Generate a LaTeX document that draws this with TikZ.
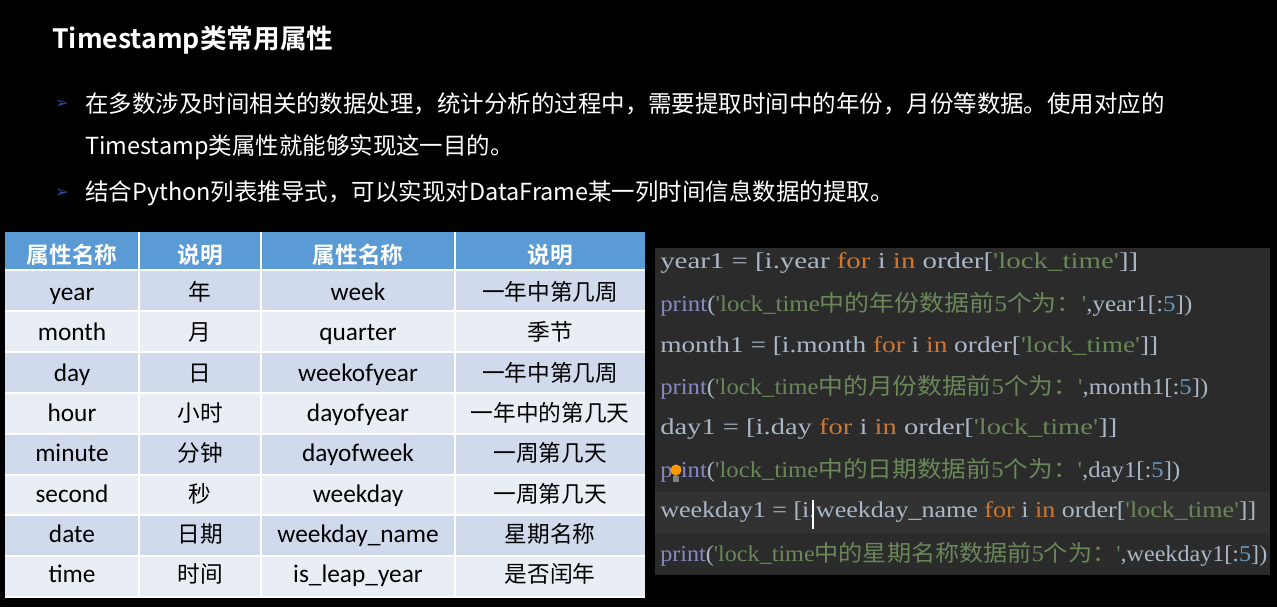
\documentclass[tikz,border=0pt]{standalone}
\usepackage{fontspec}
\setmainfont{Carlito}
\newfontfamily\cjk{Noto Sans CJK SC}
\newfontfamily\cjkb{Noto Sans CJK SC Bold}
\newfontfamily\codef{Liberation Serif}
\newfontfamily\dejavu{DejaVu Sans}
\definecolor{hdr}{HTML}{5B9BD5}
\definecolor{rowA}{HTML}{D0DAEC}
\definecolor{rowB}{HTML}{E9EDF4}
\definecolor{cbg}{HTML}{2B2B2B}
\definecolor{chl}{HTML}{323232}
\definecolor{ctx}{HTML}{A9B7C6}
\definecolor{ckw}{HTML}{CC7832}
\definecolor{cst}{HTML}{6A8759}
\definecolor{cpr}{HTML}{8888C6}
\definecolor{cnum}{HTML}{6897BB}
\definecolor{bul}{HTML}{2A4BB0}
\newcommand{\kw}[1]{\textcolor{ckw}{#1}}
\newcommand{\st}[1]{\textcolor{cst}{#1}}
\newcommand{\pr}[1]{\textcolor{cpr}{#1}}
\newcommand{\nm}[1]{\textcolor{cnum}{#1}}
\newcommand{\zh}[1]{{\cjk #1}}
\begin{document}
\begin{tikzpicture}[x=0.75pt,y=-0.75pt,
  cell/.style={anchor=center,font=\fontsize{19}{21}\selectfont,text=black,text height=13pt,text depth=3pt},
  zcell/.style={anchor=center,font=\cjk\fontsize{17}{19}\selectfont,text=black,text height=13pt,text depth=3pt},
  hcell/.style={anchor=center,font=\cjkb\fontsize{17}{19}\selectfont,text=white},
  codeline/.style={anchor=west,inner sep=0pt,text=ctx,font=\codef\fontsize{17}{19}\selectfont},
  bullet/.style={anchor=west,inner sep=0pt,font=\cjk\fontsize{17.6}{20}\selectfont,text=white},
  arrowb/.style={text=bul,font=\dejavu\fontsize{12}{14}\selectfont}]
\fill[black] (0,0) rectangle (1277,607);
\useasboundingbox (0,0) rectangle (1277,607);
\node[anchor=west,inner sep=0pt,text=white,font=\cjkb\fontsize{20}{22}\selectfont] (title) at (52,40) {Timestamp类常用属性};
\node[arrowb] (b1) at (62,104) {➢};
\node[arrowb] (b2) at (62,193) {➢};
\node[bullet] (t1) at (85,104) {在多数涉及时间相关的数据处理，统计分析的过程中，需要提取时间中的年份，月份等数据。使用对应的};
\node[bullet] (t2) at (85,147) {Timestamp类属性就能够实现这一目的。};
\node[bullet] (t3) at (85,193) {结合Python列表推导式，可以实现对DataFrame某一列时间信息数据的提取。};
% table
\fill[hdr] (5,232) rectangle (645,270);
\foreach \i in {0,...,7}{
  \pgfmathsetmacro{\ya}{270+\i*40.9}
  \pgfmathsetmacro{\yb}{270+(\i+1)*40.9}
  \pgfmathparse{mod(\i,2)==0?"rowA":"rowB"}
  \fill[\pgfmathresult] (5,\ya) rectangle (645,\yb);
}
\foreach \x in {139,261,455}{\draw[white,line width=1.5pt] (\x,232) -- (\x,597);}
\foreach \i in {0,...,8}{\draw[white,line width=1.5pt] (5,270+\i*40.9) -- (645,270+\i*40.9);}
\node[hcell] (h1) at (72,255) {属性名称};
\node[hcell] (h2) at (200,255) {说明};
\node[hcell] (h3) at (358,255) {属性名称};
\node[hcell] (h4) at (550,255) {说明};
\foreach \a/\b/\c/\d [count=\i from 0] in {year/年/week/一年中第几周,month/月/quarter/季节,day/日/weekofyear/一年中第几周,hour/小时/dayofyear/一年中的第几天,minute/分钟/dayofweek/一周第几天,second/秒/weekday/一周第几天,date/日期/weekday\_name/星期名称,time/时间/is\_leap\_year/是否闰年}{
  \node[cell] (ra\i) at (72,{294+\i*40.3}) {\a};
  \node[zcell] (rb\i) at (200,{294+\i*40.3}) {\b};
  \node[cell] (rc\i) at (358,{294+\i*40.3}) {\c};
  \node[zcell] (rd\i) at (550,{294+\i*40.3}) {\d};
}
% code
\fill[cbg] (655,248) rectangle (1270,575);
\fill[chl] (655,492) rectangle (1270,533);
\node[codeline] (c1) at (660,263) {\resizebox{478\dimexpr0.75pt}{\height}{year1 = [i.year \kw{for} i \kw{in} order[\st{'lock\_time'}]]}};
\node[codeline] (c2) at (660,304) {\resizebox{532\dimexpr0.75pt}{\height}{\pr{print}(\st{'lock\_time\zh{中的年份数据前}5\zh{个为：}'},year1[:\nm{5}])}};
\node[codeline] (c3) at (660,346) {\resizebox{498\dimexpr0.75pt}{\height}{month1 = [i.month \kw{for} i \kw{in} order[\st{'lock\_time'}]]}};
\node[codeline] (c4) at (660,387) {\resizebox{548\dimexpr0.75pt}{\height}{\pr{print}(\st{'lock\_time\zh{中的月份数据前}5\zh{个为：}'},month1[:\nm{5}])}};
\node[codeline] (c5) at (660,429) {\resizebox{457\dimexpr0.75pt}{\height}{day1 = [i.day \kw{for} i \kw{in} order[\st{'lock\_time'}]]}};
\node[codeline] (c6) at (660,470) {\resizebox{520\dimexpr0.75pt}{\height}{\pr{print}(\st{'lock\_time\zh{中的日期数据前}5\zh{个为：}'},day1[:\nm{5}])}};
\node[codeline] (c7) at (660,512) {\resizebox{596\dimexpr0.75pt}{\height}{weekday1 = [i.weekday\_name \kw{for} i \kw{in} order[\st{'lock\_time'}]]}};
\node[codeline] (c8) at (660,554) {\resizebox{607\dimexpr0.75pt}{\height}{\pr{print}(\st{'lock\_time\zh{中的星期名称数据前}5\zh{个为：}'},weekday1[:\nm{5}])}};
\fill[orange!80!yellow] (676,470) circle (5.5);
\fill[gray] (673,476) rectangle (679,482);
\draw[white,line width=1.2pt] (813,500) -- (813,529);
\end{tikzpicture}
\end{document}
